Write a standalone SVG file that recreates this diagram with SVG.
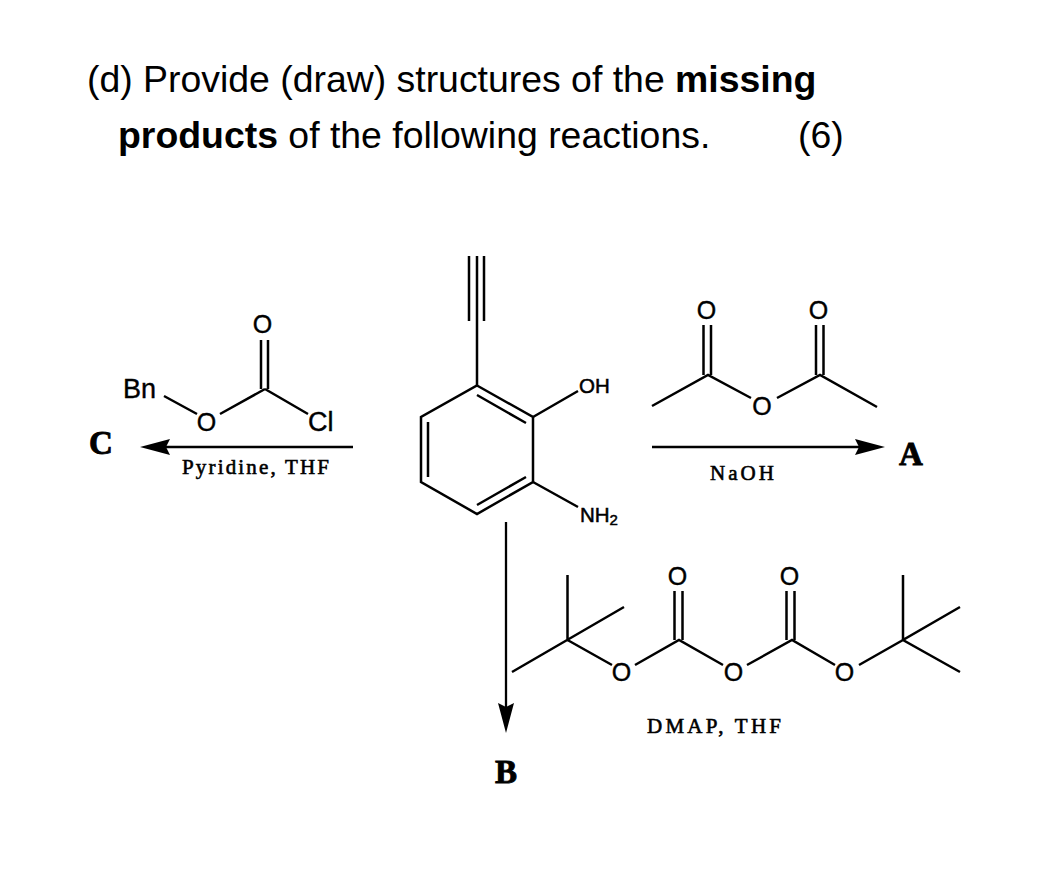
<svg xmlns="http://www.w3.org/2000/svg" width="1063" height="893" viewBox="0 0 1063 893">
<defs>
<style>
.b{fill:none;stroke:#000;stroke-width:2.500;stroke-linecap:butt}
.a{fill:none;stroke:#000;stroke-width:2.300}
.h{font-family:"Liberation Sans",Arial,sans-serif;font-size:37.400px;fill:#000}
.l{font-family:"Liberation Sans",Arial,sans-serif;font-size:20.500px;fill:#000;stroke:#000;stroke-width:.5}
.o{font-family:"Liberation Sans",Arial,sans-serif;font-size:25px;fill:#000;stroke:#000;stroke-width:.4}
.w{font-size:27px}
.m{text-anchor:middle}
.r{font-family:"Liberation Serif","Times New Roman",serif;font-size:21px;fill:#000;stroke:#000;stroke-width:.6}
.p{font-family:"Liberation Serif","Times New Roman",serif;font-size:33px;font-weight:bold;fill:#000;stroke:#000;stroke-width:.9}
</style>
<marker id="head" markerUnits="userSpaceOnUse" markerWidth="31" markerHeight="17" refX="4" refY="8.500" orient="auto">
<path d="M0 0.500L30 8.500L0 16.500L4 8.500Z" fill="#000"/>
</marker>
</defs>
<rect width="1063" height="893" fill="#fff"/>
<g id="heading">
<text class="h" x="87" y="92">(d) Provide (draw) structures of the <tspan font-weight="bold">missing</tspan></text>
<text class="h" x="118" y="148"><tspan font-weight="bold">products</tspan> of the following reactions.</text>
<text class="h" x="798" y="148">(6)</text>
</g>
<g id="substrate">
<path class="b" d="M477 256V386M469 256V321M484 256V321"/>
<path class="b" d="M477 385.500L533 417V482L477 514L421 482V417Z"/>
<path class="b" d="M477 395L526 423M428 422V477M477 505L526 477"/>
<path class="b" d="M533 417L578 391M533 482L578 507"/>
<text class="l" x="579" y="393">OH</text>
<text class="l" x="580" y="522">NH<tspan font-size="15" dy="3">2</tspan></text>
</g>
<g id="benzyl-chloroformate">
<path class="b" d="M261 340V389M268 340V389M265 389L220 414M164 396L197 414M265 389L308 414"/>
<text class="o m" x="262.500" y="333">O</text>
<text class="o w" x="123" y="398">Bn</text>
<text class="o m" x="206.500" y="430.500">O</text>
<text class="o w" x="308" y="430.500">Cl</text>
</g>
<g id="acetic-anhydride">
<path class="b" d="M703.500 325V375M711 325V375M816 325V375M823.500 325V375M652 406L708 375L751 398M777 398L820 375L877 407"/>
<text class="o m" x="706.500" y="319">O</text>
<text class="o m" x="818.500" y="319">O</text>
<text class="o m" x="762" y="415">O</text>
</g>
<g id="boc-anhydride">
<path class="b" d="M567.500 575V640M624 607L512 672M567.500 640L612 665M635 665L679 640L723 665M747 665L792 640L835 665M859 665L903 640M903 575V640M960 607L903 640L960 672"/>
<path class="b" d="M674.500 591V640M682.500 591V640M786.500 591V640M794.500 591V640"/>
<text class="o m" x="677.500" y="584.500">O</text>
<text class="o m" x="789.500" y="584.500">O</text>
<text class="o m" x="621.500" y="681">O</text>
<text class="o m" x="733.500" y="681">O</text>
<text class="o m" x="844.500" y="681">O</text>
</g>
<g id="connectors">
<line class="a" x1="353" y1="447" x2="166" y2="447" marker-end="url(#head)"/>
<line class="a" x1="652" y1="447" x2="859" y2="447" marker-end="url(#head)"/>
<line class="a" x1="506" y1="522" x2="506" y2="707" marker-end="url(#head)"/>
</g>
<g id="labels">
<text class="r" x="182" y="474" textLength="147" lengthAdjust="spacing">Pyridine, THF</text>
<text class="r" x="710" y="480" textLength="64" lengthAdjust="spacing">NaOH</text>
<text class="r" x="647" y="733" textLength="134" lengthAdjust="spacing">DMAP, THF</text>
</g>
<g id="product-a"><text class="p" x="899" y="465">A</text></g>
<g id="product-b"><text class="p" x="495" y="783">B</text></g>
<g id="product-c"><text class="p" x="89" y="454">C</text></g>
</svg>
